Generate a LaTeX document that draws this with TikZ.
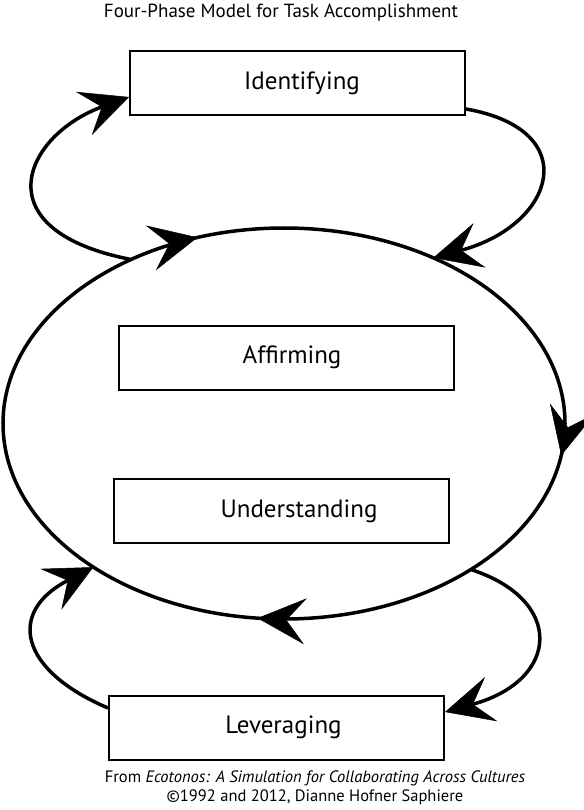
\documentclass[tikz,border=0pt]{standalone}
\usepackage{fontspec}
\setmainfont{PT Sans}
\usetikzlibrary{arrows.meta,shapes.geometric,decorations.markings,calc}
\begin{document}
\begin{tikzpicture}[x=1pt,y=-1pt,
  phasebox/.style={draw, line width=2pt, minimum width=335pt, minimum height=64pt, inner sep=0pt, font=\fontsize{25}{30}\selectfont},
  bigtip/.tip={Stealth[length=48pt,width=46pt,inset=19pt,line width=0.5pt]},
  loopline/.style={line width=3.5pt, -bigtip},
  cycleline/.style={line width=3.5pt},
]
\useasboundingbox (0,0) rectangle (583,810);
\fill[white] (0,0) rectangle (583,810);
\node[font=\fontsize{19}{22}\selectfont, inner sep=0pt] (title) at (281,13) {Four-Phase Model for Task Accomplishment};
\node[phasebox] (I) at (297.5,83) {\hspace*{9pt}Identifying};
\node[phasebox] (A) at (286,357.5) {\hspace*{12pt}Affirming};
\node[phasebox] (U) at (281,511) {\hspace*{36pt}Understanding};
\node[phasebox] (L) at (276.5,727.5) {\hspace*{14pt}Leveraging};
\node[ellipse, minimum width=562pt, minimum height=391pt, inner sep=0pt, outer sep=0pt] (E) at (284,423.5) {};
\draw[cycleline, postaction={decorate}, decoration={markings,
    mark=at position 0.3077 with {\arrowreversed{bigtip}},
    mark=at position 0.7324 with {\arrowreversed{bigtip}},
    mark=at position 0.9786 with {\arrowreversed{bigtip}}}]
  (E.center) ellipse [x radius=281pt, y radius=195.5pt];
\draw[loopline] (E.133) .. controls (-20,230) and (25,135) .. ([yshift=-14pt]I.west);
\draw[loopline] ([yshift=-26pt]I.east) .. controls (585,130) and (555,225) .. (E.48);
\draw[loopline] ([yshift=19.5pt]L.west) .. controls (19,670) and (7,612) .. (E.217);
\draw[loopline] (E.-38) .. controls (565,600) and (560,680) .. ([yshift=15.5pt]L.east);
\node[font=\fontsize{16.5}{19}\selectfont, align=center, inner sep=0pt] (credit) at (315,787.5)
  {From \textit{Ecotonos: A Simulation for Collaborating Across Cultures}\\ ©1992 and 2012, Dianne Hofner Saphiere};
\end{tikzpicture}
\end{document}
